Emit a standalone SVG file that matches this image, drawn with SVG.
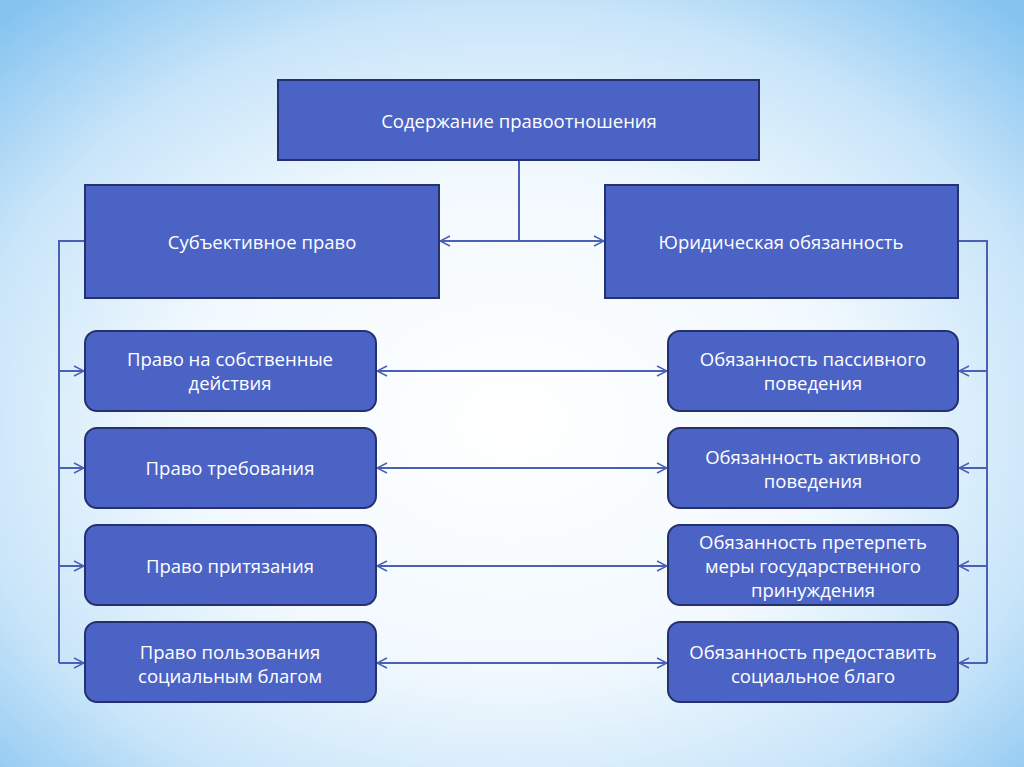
<svg xmlns="http://www.w3.org/2000/svg" width="1024" height="767" viewBox="0 0 1024 767">
<defs>
<radialGradient id="bg" cx="50%" cy="55%" r="72%">
<stop offset="0" stop-color="#ffffff"/>
<stop offset="0.45" stop-color="#f2f9fe"/>
<stop offset="0.75" stop-color="#c8e5f9"/>
<stop offset="1" stop-color="#86c4f0"/>
</radialGradient>
<marker id="ah" viewBox="0 0 12 12" refX="11" refY="6" markerWidth="12" markerHeight="12" markerUnits="userSpaceOnUse" orient="auto-start-reverse">
<path d="M1,1 L11,6 L1,11" fill="none" stroke="#4a5fb6" stroke-width="1.5"/>
</marker>
<style>
.box{fill:#4c63c6;stroke:#25306e;stroke-width:2}
.t{fill:#ffffff;font-family:"Open Sans","Noto Sans","DejaVu Sans",sans-serif;font-size:18.5px;text-anchor:middle}
.ln{fill:none;stroke:#4a5fb6;stroke-width:2}
.ar{fill:none;stroke:#4a5fb6;stroke-width:2;marker-end:url(#ah)}
.ab{fill:none;stroke:#4a5fb6;stroke-width:2;marker-start:url(#ah);marker-end:url(#ah)}
</style>
</defs>
<rect x="0" y="0" width="1024" height="767" fill="url(#bg)"/>
<g id="connectors">
<path class="ln" d="M519,160 V241"/>
<path class="ab" d="M440,241 H604"/>
<path class="ln" d="M85,241 H59 V663"/>
<path class="ar" d="M59,371 H84"/>
<path class="ar" d="M59,468 H84"/>
<path class="ar" d="M59,566 H84"/>
<path class="ar" d="M59,663 H84"/>
<path class="ln" d="M958,241 H987 V663"/>
<path class="ar" d="M987,371 H959"/>
<path class="ar" d="M987,468 H959"/>
<path class="ar" d="M987,566 H959"/>
<path class="ar" d="M987,663 H959"/>
<path class="ab" d="M377,371 H667"/>
<path class="ab" d="M377,468 H667"/>
<path class="ab" d="M377,566 H667"/>
<path class="ab" d="M377,663 H667"/>
</g>
<g id="root"><rect class="box" x="278" y="80" width="481" height="80"/><text class="t" x="519" y="128">Содержание правоотношения</text></g>
<g id="subj"><rect class="box" x="85" y="185" width="354" height="113"/><text class="t" x="262" y="249">Субъективное право</text></g>
<g id="obl"><rect class="box" x="605" y="185" width="353" height="113"/><text class="t" x="781" y="249">Юридическая обязанность</text></g>
<g id="l1"><rect class="box" x="85" y="331" width="291" height="80" rx="12"/><text class="t" x="230" y="366">Право на собственные</text><text class="t" x="230" y="390">действия</text></g>
<g id="l2"><rect class="box" x="85" y="428" width="291" height="80" rx="12"/><text class="t" x="230" y="475">Право требования</text></g>
<g id="l3"><rect class="box" x="85" y="525" width="291" height="80" rx="12"/><text class="t" x="230" y="573">Право притязания</text></g>
<g id="l4"><rect class="box" x="85" y="622" width="291" height="80" rx="12"/><text class="t" x="230" y="659">Право пользования</text><text class="t" x="230" y="683">социальным благом</text></g>
<g id="r1"><rect class="box" x="668" y="331" width="290" height="80" rx="12"/><text class="t" x="813" y="366">Обязанность пассивного</text><text class="t" x="813" y="390">поведения</text></g>
<g id="r2"><rect class="box" x="668" y="428" width="290" height="80" rx="12"/><text class="t" x="813" y="464">Обязанность активного</text><text class="t" x="813" y="488">поведения</text></g>
<g id="r3"><rect class="box" x="668" y="525" width="290" height="80" rx="12"/><text class="t" x="813" y="549">Обязанность претерпеть</text><text class="t" x="813" y="573">меры государственного</text><text class="t" x="813" y="597">принуждения</text></g>
<g id="r4"><rect class="box" x="668" y="622" width="290" height="80" rx="12"/><text class="t" x="813" y="659">Обязанность предоставить</text><text class="t" x="813" y="683">социальное благо</text></g>
</svg>
